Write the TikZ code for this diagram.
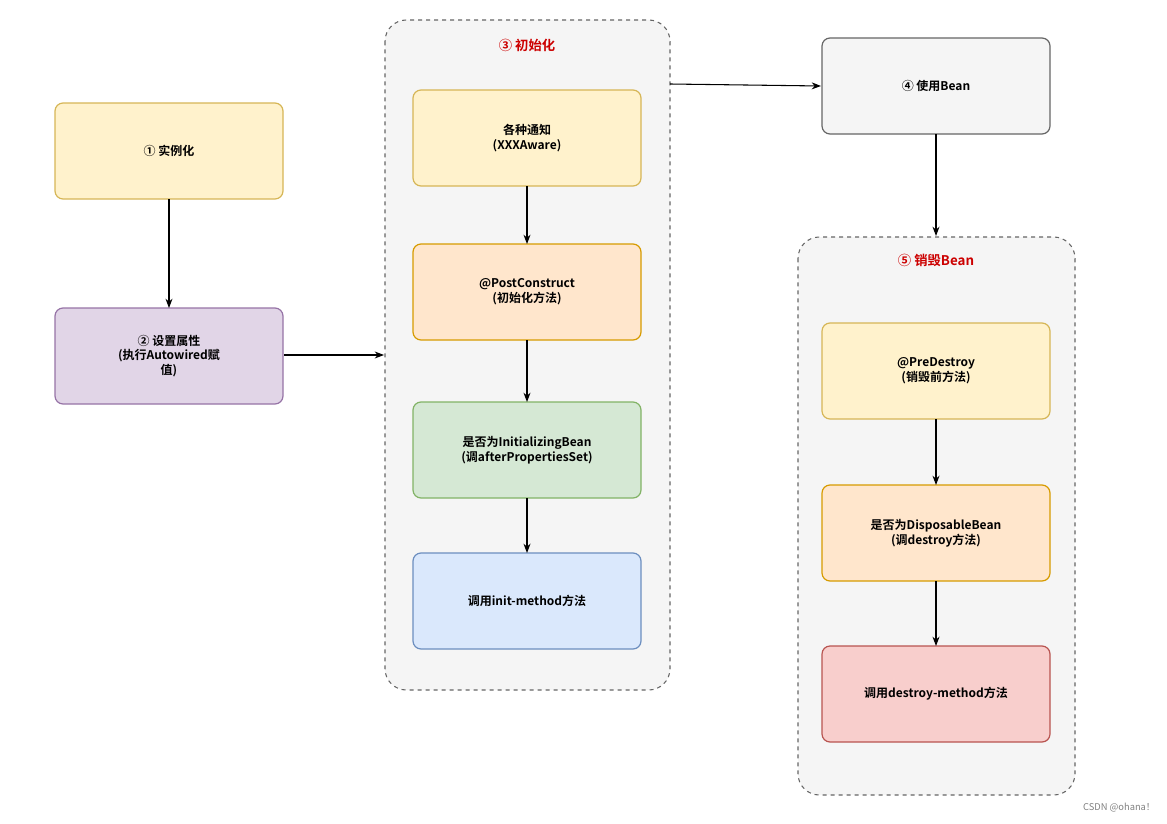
\documentclass[tikz,border=0pt]{standalone}
\usepackage{fontspec}
\setmainfont{Noto Sans CJK SC}[BoldFont={Noto Sans CJK SC Bold}]
\usetikzlibrary{arrows.meta}
\definecolor{yf}{HTML}{FFF2CC}\definecolor{yd}{HTML}{D6B656}
\definecolor{pf}{HTML}{E1D5E7}\definecolor{pd}{HTML}{9673A6}
\definecolor{of}{HTML}{FFE6CC}\definecolor{od}{HTML}{D79B00}
\definecolor{gf}{HTML}{D5E8D4}\definecolor{gd}{HTML}{82B366}
\definecolor{bf}{HTML}{DAE8FC}\definecolor{bd}{HTML}{6C8EBF}
\definecolor{rf}{HTML}{F8CECC}\definecolor{rd}{HTML}{B85450}
\definecolor{sf}{HTML}{F5F5F5}\definecolor{sd}{HTML}{666666}
\definecolor{ttl}{HTML}{CC0000}
\begin{document}
\begin{tikzpicture}[x=0.75pt,y=-0.75pt,
 box/.style={rounded corners=6pt,line width=0.9pt,align=center,font=\bfseries\small},
 grp/.style={rounded corners=16pt,dashed,draw=sd,fill=sf,line width=0.8pt},
 arr/.style={-{Stealth[length=7pt]},line width=0.8pt},
 ttl/.style={text=ttl,font=\bfseries\normalsize}]
\useasboundingbox (0,0) rectangle (1167,824);
\draw[grp] (385,20) rectangle (670,690) coordinate (g3c);
\coordinate (g3) at (527.5,355);
\draw[grp] (798,237) rectangle (1075,795);
\node[ttl] (t3) at (527,45) {③ 初始化};
\node[ttl] (t5) at (936,260) {⑤ 销毁Bean};
\newcommand\bx[6]{\draw[box,fill=#5,draw=#6] (#1-114,#2-48) rectangle (#1+114,#2+48);
 \node[box] (#3) at (#1,#2) {#4};}
\bx{169}{151}{n1}{① 实例化}{yf}{yd}
\bx{169}{356}{n2}{② 设置属性\\(执行Autowired赋\\值)}{pf}{pd}
\bx{527}{138}{a1}{各种通知\\(XXXAware)}{yf}{yd}
\bx{527}{292}{a2}{@PostConstruct\\(初始化方法)}{of}{od}
\bx{527}{450}{a3}{是否为InitializingBean\\(调afterPropertiesSet)}{gf}{gd}
\bx{527}{601}{a4}{调用init-method方法}{bf}{bd}
\bx{936}{86}{n4}{④ 使用Bean}{sf}{sd}
\bx{936}{371}{b1}{@PreDestroy\\(销毁前方法)}{yf}{yd}
\bx{936}{533}{b2}{是否为DisposableBean\\(调destroy方法)}{of}{od}
\bx{936}{694}{b3}{调用destroy-method方法}{rf}{rd}
\coordinate (n1b) at (169,199); \coordinate (n2t) at (169,308);
\draw[arr] (n1b) -- (n2t);
\coordinate (n2r) at (284,355); \coordinate (g3l) at (384,355);
\draw[arr] (n2r) -- (g3l);
\coordinate (g3r) at (670,84); \coordinate (n4l) at (821,86);
\draw[arr] (g3r) -- (n4l);
\coordinate (n4b) at (936,134); \coordinate (g5t) at (936,236);
\draw[arr] (n4b) -- (g5t);
\foreach \p/\q in {a1/a2,a2/a3,a3/a4,b1/b2,b2/b3}{
 \draw[arr] ([yshift=-48*0.75pt]\p.center) -- ([yshift=48*0.75pt]\q.center);}
\node[text=gray,font=\scriptsize,anchor=east] (wm) at (1160,808) {CSDN @ohana！};
\end{tikzpicture}
\end{document}
